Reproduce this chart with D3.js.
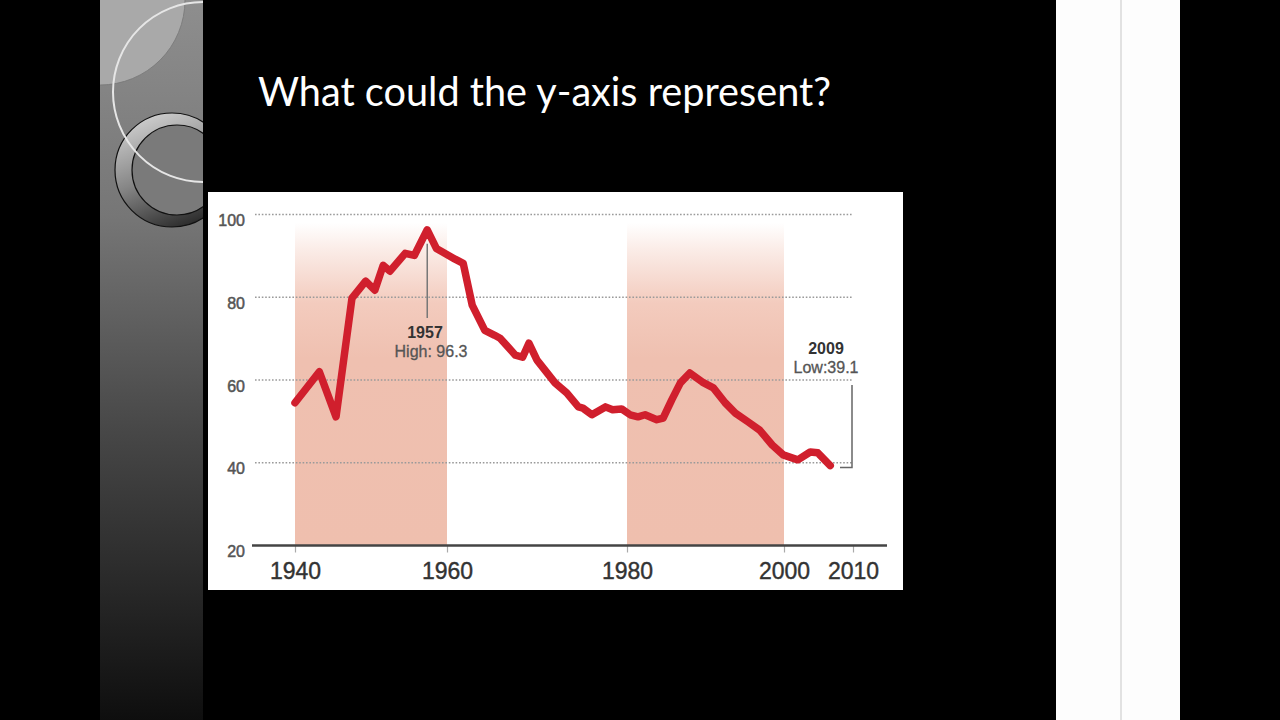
<!DOCTYPE html>
<html><head><meta charset="utf-8">
<script src="https://cdn.jsdelivr.net/npm/d3@7"></script>
<style>html,body{margin:0;padding:0;background:#000;overflow:hidden}</style>
</head><body>
<svg id="c" width="1280" height="720"></svg>
<script>
// ---- data ----
const years = [1940.0,1943.2,1945.4,1947.5,1949.3,1950.5,1951.6,1952.5,1954.5,1955.7,1957.4,1958.6,1960.9,1961.8,1962.8,1964.2,1965.3,1965.9,1967.6,1968.4,1969.1,1970.0,1972.0,1973.3,1974.6,1975.1,1976.1,1977.6,1978.4,1979.4,1980.4,1981.4,1982.3,1983.8,1984.6,1985.7,1986.8,1988.0,1989.6,1991.0,1992.5,1993.8,1995.4,1996.9,1998.5,1999.9,2002.0,2003.8,2004.9,2006.7];
const values = [54.5,62.0,51.1,79.8,83.9,81.7,87.7,86.3,90.6,90.1,96.3,91.8,89.2,88.2,78.1,72.0,70.8,70.1,66.0,65.5,68.9,64.8,59.3,56.9,53.5,53.2,51.6,53.5,52.8,53.0,51.6,51.1,51.6,50.4,50.8,55.2,59.3,61.7,59.5,58.1,54.5,52.0,49.9,47.9,44.3,41.9,40.7,42.6,42.4,39.3];
const xTicks = [1940,1960,1980,2000,2010];
const yTicks = [20,40,60,80,100];
const gridTicks = [40,60,80,100];
const bandStarts = [1940,1980];
const bandEnds = [1960,2000];
const title = "What could the y-axis represent?";
const highYear = "1957", highLabel = "High: 96.3", highX = 1957.4, highV = 96.3;
const lowYear = "2009", lowLabel = "Low:39.1", lowV = 39.1;

const svg = d3.select("#c");
const defs = svg.append("defs");

// ---- slide background ----
svg.append("rect").attr("width",1280).attr("height",720).attr("fill","#000");
const sg = defs.append("linearGradient").attr("id","side").attr("x1",0).attr("y1",0).attr("x2",0).attr("y2",1);
sg.append("stop").attr("offset","0").attr("stop-color","#8e8e8e");
sg.append("stop").attr("offset","0.3").attr("stop-color","#767676");
sg.append("stop").attr("offset","0.6").attr("stop-color","#474747");
sg.append("stop").attr("offset","1").attr("stop-color","#0e0e0e");
defs.append("clipPath").attr("id","sideClip").append("rect").attr("x",100).attr("y",0).attr("width",103).attr("height",720);
const side = svg.append("g").attr("clip-path","url(#sideClip)");
side.append("rect").attr("x",100).attr("y",0).attr("width",103).attr("height",720).attr("fill","url(#side)");
side.append("circle").attr("cx",100).attr("cy",0).attr("r",85).attr("fill","#a9a9a9").attr("stroke","#777").attr("stroke-width",0.8);
const rg = defs.append("linearGradient").attr("id","ring").attr("x1",0.3).attr("y1",0).attr("x2",0.7).attr("y2",1);
rg.append("stop").attr("offset","0").attr("stop-color","#cfcfcf");
rg.append("stop").attr("offset","0.5").attr("stop-color","#858585");
rg.append("stop").attr("offset","1").attr("stop-color","#262626");
side.append("circle").attr("cx",172).attr("cy",170).attr("r",57)
  .attr("fill","url(#ring)").attr("stroke","#111").attr("stroke-width",1.2);
side.append("circle").attr("cx",177).attr("cy",170).attr("r",45).attr("fill","#7a7a7a").attr("stroke","#111").attr("stroke-width",1.2);
side.append("circle").attr("cx",203).attr("cy",92).attr("r",90).attr("fill","none").attr("stroke","#e6e6e6").attr("stroke-width",2);

// right white strip
svg.append("rect").attr("x",1056).attr("y",0).attr("width",124).attr("height",720).attr("fill","#fdfdfd");
svg.append("rect").attr("x",1120).attr("y",0).attr("width",2).attr("height",720).attr("fill","#e2e2e2");

// title
svg.append("text").attr("x",258).attr("y",106).attr("fill","#fff")
  .attr("font-family","Lato, 'Open Sans', sans-serif").attr("font-size",41).text(title)
  .attr("textLength",573).attr("lengthAdjust","spacingAndGlyphs");

// ---- chart image ----
svg.append("rect").attr("x",208).attr("y",192).attr("width",695).attr("height",398).attr("fill","#fff");

const x = d3.scaleLinear().domain(xTicks).range([295,447,627,784,853]);
const y = d3.scaleLinear().domain([20,100]).range([545.5,214.5]);
const font = "'Liberation Sans', Arial, sans-serif";

// shaded bands
const bg = defs.append("linearGradient").attr("id","band").attr("x1",0).attr("y1",0).attr("x2",0).attr("y2",1);
bg.append("stop").attr("offset","0").attr("stop-color","#f1c2b2").attr("stop-opacity",0);
bg.append("stop").attr("offset","0.08").attr("stop-color","#f1c2b2").attr("stop-opacity",0.3);
bg.append("stop").attr("offset","0.25").attr("stop-color","#f1c2b2").attr("stop-opacity",0.85);
bg.append("stop").attr("offset","0.42").attr("stop-color","#efc0b0").attr("stop-opacity",1);
bg.append("stop").attr("offset","1").attr("stop-color","#efbfae").attr("stop-opacity",1);
svg.append("g").selectAll("rect").data(bandStarts).join("rect")
  .attr("x",d=>x(d)).attr("width",(d,i)=>x(bandEnds[i])-x(d))
  .attr("y",y(98)).attr("height",y(20)-y(98)).attr("fill","url(#band)");

// grid
svg.append("g").selectAll("line").data(gridTicks).join("line")
  .attr("x1",255).attr("x2",852).attr("y1",d=>y(d)).attr("y2",d=>y(d))
  .attr("stroke","#9a9a9a").attr("stroke-width",1.3).attr("stroke-dasharray","1.6,1.8");

// y labels
svg.append("g").selectAll("text").data(yTicks).join("text")
  .attr("x",245).attr("y",d=>y(d)+11.5).attr("text-anchor","end")
  .attr("font-family",font).attr("font-size",16).attr("fill","#555")
  .attr("stroke","#555").attr("stroke-width",0.5).text(d=>d);

// x axis
const xa = svg.append("g").attr("transform",`translate(0,${y(20)})`)
  .call(d3.axisBottom(x).tickValues(xTicks).tickFormat(d3.format("d")).tickSize(7).tickPadding(10));
xa.select(".domain").remove();
xa.selectAll(".tick line").attr("stroke","#aaa").attr("stroke-width",1.2);
xa.selectAll(".tick text").attr("font-family",font).attr("font-size",23).attr("fill","#333")
  .attr("stroke","#333").attr("stroke-width",0.4);
svg.append("line").attr("x1",252).attr("x2",887).attr("y1",y(20)).attr("y2",y(20))
  .attr("stroke","#444").attr("stroke-width",2.5);

// data line
const pts = years.map((yr,i)=>[yr,values[i]]);
svg.append("path").datum(pts)
  .attr("d", d3.line().x(d=>x(d[0])).y(d=>y(d[1])))
  .attr("fill","none").attr("stroke","#d01f2d").attr("stroke-width",7.5)
  .attr("stroke-linejoin","round").attr("stroke-linecap","round");

// high annotation
svg.append("line").attr("x1",x(highX)).attr("x2",x(highX)).attr("y1",y(highV)+14).attr("y2",318)
  .attr("stroke","#777").attr("stroke-width",1.5);
svg.append("text").attr("x",425).attr("y",338).attr("text-anchor","middle").attr("font-family",font)
  .attr("font-size",16).attr("font-weight","bold").attr("fill","#333").text(highYear);
svg.append("text").attr("x",431).attr("y",357).attr("text-anchor","middle").attr("font-family",font)
  .attr("font-size",16).attr("fill","#555").attr("stroke","#555").attr("stroke-width",0.3).text(highLabel);

// low annotation
svg.append("text").attr("x",826).attr("y",354).attr("text-anchor","middle").attr("font-family",font)
  .attr("font-size",16).attr("font-weight","bold").attr("fill","#333").text(lowYear);
svg.append("text").attr("x",826).attr("y",373).attr("text-anchor","middle").attr("font-family",font)
  .attr("font-size",16).attr("fill","#555").attr("stroke","#555").attr("stroke-width",0.3).text(lowLabel);
svg.append("path")
  .attr("d",`M852,385 L852,${y(lowV)+1} L840,${y(lowV)+1}`)
  .attr("fill","none").attr("stroke","#666").attr("stroke-width",1.5);
</script>
</body></html>
